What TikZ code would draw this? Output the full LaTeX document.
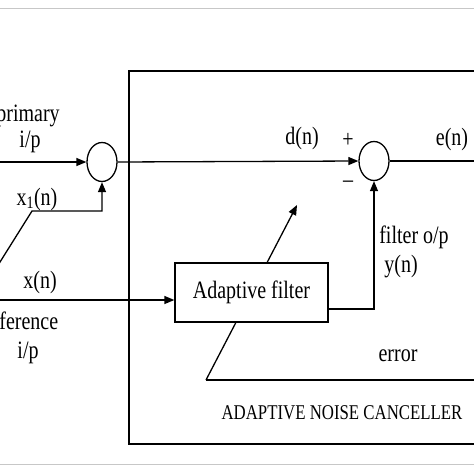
\documentclass[tikz,border=0pt]{standalone}
\usepackage{fontspec}
\setmainfont[FakeStretch=0.8]{Liberation Serif}
\usetikzlibrary{shapes.geometric,arrows.meta}
\begin{document}
\begin{tikzpicture}[x=1pt,y=-1pt,
  wire/.style={line width=1.3pt},
  arr/.style={wire,-{Triangle[length=10pt,width=8pt]}},
  sumnode/.style={draw,line width=1.3pt,ellipse,minimum width=30pt,minimum height=39pt,inner sep=0pt},
  lbl/.style={font=\fontsize{25}{27}\selectfont,inner sep=0pt},
  sm/.style={font=\fontsize{21}{23}\selectfont,inner sep=0pt},
  blockbox/.style={draw,line width=1.3pt,fill=white,minimum width=153pt,minimum height=59pt,font=\fontsize{25}{27}\selectfont},
  frame/.style={draw=black!22,line width=1pt}]
\useasboundingbox (0,0) rectangle (474,474);
% page frame lines
\coordinate (fl1) at (0,8); \coordinate (fr1) at (474,8);
\coordinate (fl2) at (0,464); \coordinate (fr2) at (474,464);
\draw[frame] (fl1) -- (fr1);
\draw[frame] (fl2) -- (fr2);
% big box
\coordinate (btr) at (480,71); \coordinate (btl) at (129,71);
\coordinate (bbl) at (129,444); \coordinate (bbr) at (480,444);
\draw[line width=1.2pt] (btr) -- (btl) -- (bbl) -- (bbr);
% summing junctions
\node[sumnode] (s1) at (102,162) {};
\node[sumnode] (s2) at (374,161) {};
% error feedback / adaptation arrow (behind filter box)
\coordinate (er) at (480,380);
\coordinate (el) at (206,380);
\coordinate (etip) at (297,205);
\draw[wire] (er) -- (el);
\draw[arr] (el) -- (etip);
% adaptive filter
\node[blockbox] (af) at (251.5,292.5) {Adaptive filter};
% primary input
\coordinate (pin) at (-5,162);
\draw[arr] (pin) -- (s1.west);
% x1 path
\coordinate (x1a) at (-5,270);
\coordinate (x1b) at (32,211);
\coordinate (x1c) at (102,211);
\draw[arr] (x1a) -- (x1b) -- (x1c) -- (s1.south);
% reference input
\coordinate (xin) at (-5,300);
\draw[arr] (xin) -- (af.west |- xin);
% d(n)
\draw[arr] (s1.east) -- (s2.west);
% e(n)
\coordinate (eout) at (480,161);
\draw[wire] (s2.east) -- (eout);
% filter output
\coordinate (fo1) at (328,309);
\coordinate (fo2) at (374,309);
\draw[arr] (fo1) -- (fo2) -- (s2.south);
% labels
\node[lbl] (tprim) at (28,116) {primary};
\node[lbl] (tip1) at (30,142) {i/p};
\node[lbl] (tx1) at (37,199) {x\textsubscript{1}(n)};
\node[lbl] (txn) at (40,282) {x(n)};
\node[lbl] (tref) at (21,321) {reference};
\node[lbl] (tip2) at (28,353) {i/p};
\node[lbl] (tdn) at (302,138) {d(n)};
\node[lbl] (ten) at (452,139) {e(n)};
\node[lbl] (tplus) at (348,140) {+};
\node[lbl] (tminus) at (348,184) {\textendash};
\node[lbl] (tfop) at (414,237) {filter o/p};
\node[lbl] (tyn) at (401,267) {y(n)};
\node[lbl] (terr) at (398,356) {error};
\node[sm] (tanc) at (342,413) {ADAPTIVE NOISE CANCELLER};
\end{tikzpicture}
\end{document}
